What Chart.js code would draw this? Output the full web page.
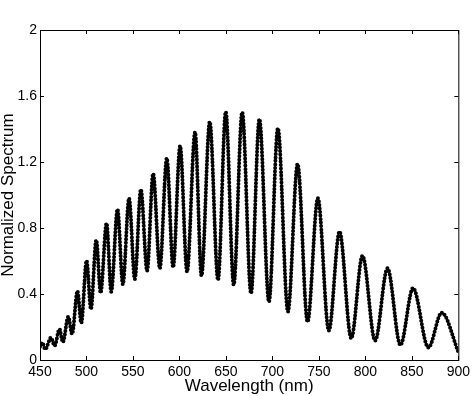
<!DOCTYPE html>
<html>
<head>
<meta charset="utf-8">
<script src="https://cdn.jsdelivr.net/npm/chart.js@4.4.0/dist/chart.umd.min.js"></script>
<style>
  body { margin: 0; background: #fff; }
</style>
</head>
<body>
<canvas id="myChart" width="474" height="396"></canvas>
<script>
// peaks and troughs of the spectrum (nm)
const wavelengths = [
  450, 452.5, 455.6, 461.8, 465.7, 471, 474.6, 480.4, 484.5, 490.3,
  494.4, 500.1, 504.8, 510.5, 515.2, 521.6, 526.6, 533.4, 539.1, 545.8,
  552, 558.5, 565.2, 571.7, 578.9, 586.4, 593.2, 600.7, 608.2, 616.8,
  623.7, 632.6, 641.5, 649.8, 658.4, 667.5, 677, 686, 696.3, 705.9,
  716.7, 727.1, 737.8, 748.9, 760.7, 772.2, 784.8, 796.9, 810.5, 823.8,
  837.7, 851.3, 867.8, 882.1, 900
];
const spectrum = [
  0.08, 0.105, 0.065, 0.135, 0.086, 0.187, 0.108, 0.262, 0.157, 0.417,
  0.225, 0.602, 0.309, 0.727, 0.408, 0.828, 0.414, 0.913, 0.459, 0.98,
  0.491, 1.033, 0.541, 1.129, 0.556, 1.222, 0.562, 1.297, 0.535, 1.38,
  0.511, 1.444, 0.485, 1.503, 0.455, 1.502, 0.404, 1.46, 0.353, 1.404,
  0.293, 1.188, 0.232, 0.98, 0.178, 0.778, 0.131, 0.632, 0.117, 0.556,
  0.091, 0.436, 0.075, 0.287, 0.05
];
const xTicks = [450, 500, 550, 600, 650, 700, 750, 800, 850, 900];
const yTicks = [0, 0.4, 0.8, 1.2, 1.6, 2];

const points = wavelengths.map((w, i) => ({ x: w, y: spectrum[i] }));

// box around the plot plus inward tick marks on all four sides
const boxPlugin = {
  id: "box",
  afterDraw(chart) {
    const c = chart.ctx;
    const a = chart.chartArea;
    const xs = chart.scales.x;
    const ys = chart.scales.y;
    c.save();
    c.strokeStyle = "#000";
    c.lineWidth = 1;
    c.strokeRect(a.left + 0.5, a.top + 0.5, a.right - a.left, a.bottom - a.top);
    c.beginPath();
    xTicks.forEach((v) => {
      const px = Math.round(xs.getPixelForValue(v)) + 0.5;
      c.moveTo(px, a.bottom);
      c.lineTo(px, a.bottom - 4);
      c.moveTo(px, a.top);
      c.lineTo(px, a.top + 4);
    });
    yTicks.forEach((v) => {
      const py = Math.round(ys.getPixelForValue(v)) + 0.5;
      c.moveTo(a.left, py);
      c.lineTo(a.left + 4, py);
      c.moveTo(a.right, py);
      c.lineTo(a.right - 4, py);
    });
    c.stroke();
    c.restore();
  },
};

const ctx = document.getElementById("myChart");
const font = { family: "'Liberation Sans', Arial, sans-serif", size: 14 };

new Chart(ctx, {
  type: "line",
  data: {
    datasets: [
      {
        data: points,
        borderColor: "#000",
        borderWidth: 1.5,
        pointRadius: 0,
        cubicInterpolationMode: "monotone",
      },
      {
        // beaded markers along the curve
        data: points,
        borderColor: "#000",
        borderWidth: 4,
        borderDash: [0, 3.5],
        borderCapStyle: "round",
        pointRadius: 0,
        cubicInterpolationMode: "monotone",
      },
    ],
  },
  options: {
    responsive: false,
    animation: false,
    events: [],
    layout: { padding: { top: 30, right: 15, left: 0, bottom: 0 } },
    plugins: { legend: { display: false }, tooltip: { enabled: false } },
    scales: {
      x: {
        type: "linear",
        min: 450,
        max: 900,
        afterFit: (s) => { s.height = 36; },
        afterBuildTicks: (s) => { s.ticks = xTicks.map((v) => ({ value: v })); },
        grid: { display: false, drawTicks: false },
        border: { display: false },
        ticks: { color: "#000", font: font, padding: 4, maxRotation: 0 },
        title: {
          display: true,
          text: "Wavelength (nm)",
          color: "#000",
          font: { family: font.family, size: 17, lineHeight: 1.1 },
          padding: 0,
        },
      },
      y: {
        min: 0,
        max: 2,
        afterFit: (s) => { s.width = 40; },
        afterBuildTicks: (s) => { s.ticks = yTicks.map((v) => ({ value: v })); },
        grid: { display: false, drawTicks: false },
        border: { display: false },
        ticks: {
          color: "#000",
          font: font,
          padding: 3,
          callback: (v) => String(+v.toFixed(1)),
        },
        title: {
          display: true,
          text: "Normalized Spectrum",
          color: "#000",
          font: { family: font.family, size: 17, lineHeight: 1 },
          padding: 0,
        },
      },
    },
  },
  plugins: [boxPlugin],
});
</script>
</body>
</html>
